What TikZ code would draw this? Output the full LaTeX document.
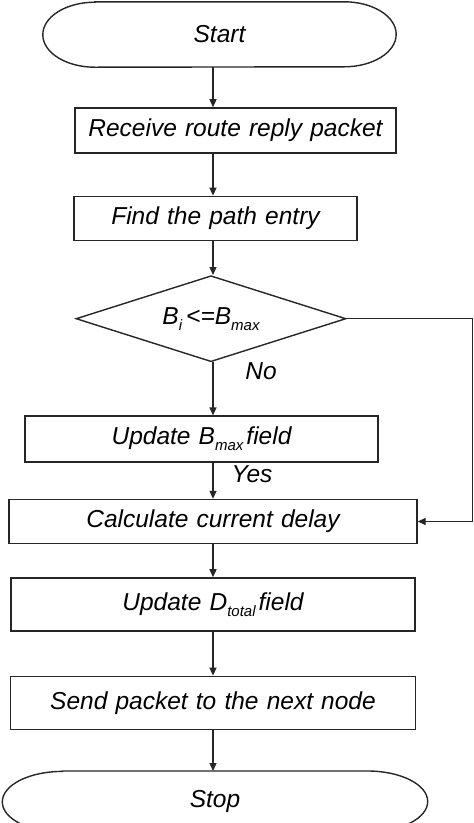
\documentclass[tikz,border=0pt]{standalone}
\usepackage{fontspec}
\setmainfont[WordSpace=1.2]{Liberation Sans}
\usetikzlibrary{shapes.geometric,arrows.meta,positioning,calc}
\newcommand{\lowidx}[1]{\raisebox{-6pt}{\fontsize{15}{15}\selectfont #1}}

\begin{document}
\begin{tikzpicture}[
    x=1pt, y=1pt,
    every node/.style={font=\itshape\fontsize{24.5}{28}\selectfont, text=black},
    term/.style={rectangle, minimum width=353pt, minimum height=65pt, inner sep=0pt},
    box/.style={rectangle, draw=black!85, line width=1.4pt, inner sep=0pt},
    decision/.style={diamond, draw=black!85, line width=1.4pt, inner sep=0pt, aspect=3.14, minimum width=270pt, minimum height=86pt},
    outline/.style={draw=black!85, line width=1.4pt},
    arrow/.style={-{Triangle[length=8pt,width=7pt]}, draw=black!85, line width=1.4pt}
]
    \useasboundingbox (0,0) rectangle (474,-823);
    \coordinate (spine) at (213,0);

    \node[term] (start) at (219.5,-34.5) {Start};
    \node[box, minimum width=321pt, minimum height=45pt, below=40pt of start, xshift=16pt] (recv) {Receive route reply packet};
    \node[box, minimum width=283pt, minimum height=44pt, below=42pt of recv, xshift=-20pt] (find) {Find the path entry};
    \node[decision, below=34pt of find, xshift=-4.5pt] (cond) {B\lowidx{i}\,<=B\lowidx{max}};
    \node[box, minimum width=353pt, minimum height=46pt, below=53pt of cond, xshift=-9.5pt] (updB) {Update B\lowidx{max}\hspace{3pt}field};
    \node[box, minimum width=408pt, minimum height=44pt, below=36pt of updB, xshift=11.5pt] (calc) {Calculate current delay};
    \node[box, minimum width=404pt, minimum height=53pt, below=33pt of calc] (updD) {Update D\lowidx{total}\hspace{3pt}field};
    \node[box, minimum width=405pt, minimum height=53pt, below=44pt of updD] (send) {Send packet to the next node};
    \node[term, minimum width=425pt, minimum height=61pt, below=41pt of send, xshift=2pt] (stop) {Stop};

    % terminal outlines
    \draw[outline] ([xshift=52pt]start.north west) -- ([xshift=-52pt]start.north east)
        arc[start angle=90, end angle=-90, x radius=52pt, y radius=32.5pt]
        -- ([xshift=52pt]start.south west)
        arc[start angle=270, end angle=90, x radius=52pt, y radius=32.5pt] -- cycle;
    \draw[outline] ([xshift=60pt]stop.north west) -- ([xshift=-60pt]stop.north east)
        arc[start angle=90, end angle=-90, x radius=60pt, y radius=30.5pt]
        -- ([xshift=60pt]stop.south west)
        arc[start angle=270, end angle=90, x radius=60pt, y radius=30.5pt] -- cycle;

    \node (no) at ([xshift=50pt, yshift=-9pt]cond.south) {No};
    \node (yes) at ([xshift=50.5pt, yshift=-11pt]updB.south) {Yes};

    \foreach \a/\b in {start/recv, recv/find, find/cond, cond/updB, updB/calc, calc/updD, updD/send, send/stop}
        \draw[arrow] (\a.south -| spine) -- (\b.north -| spine);
    \draw[arrow] (cond.east) -- ++(126,0) |- (calc.east);
\end{tikzpicture}
\end{document}
